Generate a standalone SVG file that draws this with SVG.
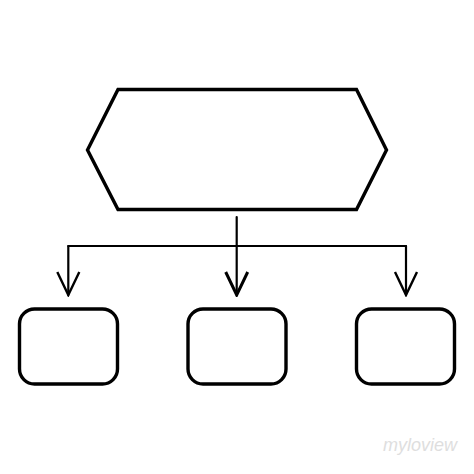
<svg xmlns="http://www.w3.org/2000/svg" width="474" height="474" viewBox="0 0 474 474">
<style>
.shape{fill:none;stroke:#000;stroke-width:3.4;stroke-linejoin:miter}
.conn{fill:none;stroke:#000;stroke-width:2.2;stroke-linecap:round}
.wm{font-family:"Liberation Sans",Arial,sans-serif;font-size:18px;fill:#dedede;font-style:italic}
</style>
<defs>
<marker id="arr" viewBox="-26 -13 28 26" refX="0" refY="0" markerWidth="28" markerHeight="26" markerUnits="userSpaceOnUse" orient="auto">
<path d="M-23,-11 L0,0 L-23,11" fill="none" stroke="#000" stroke-width="2.4"/>
</marker>
<marker id="arrB" viewBox="-26 -13 28 26" refX="0" refY="0" markerWidth="28" markerHeight="26" markerUnits="userSpaceOnUse" orient="auto">
<path d="M-23,-11 L0,0 L-23,11" fill="none" stroke="#000" stroke-width="3"/>
</marker>
</defs>
<rect width="474" height="474" fill="#fff"/>
<g id="top">
<polygon class="shape" points="118,89.5 356.5,89.5 386.5,150 356.5,209.5 118,209.5 87.5,150"/>
</g>
<g id="box1"><rect class="shape" x="19.5" y="309" width="98" height="75" rx="15"/></g>
<g id="box2"><rect class="shape" x="188" y="309" width="98" height="75" rx="15"/></g>
<g id="box3"><rect class="shape" x="356.5" y="309" width="98" height="75" rx="15"/></g>
<g id="connectors">
<path class="conn" d="M236.7,217 V295" stroke-width="3" marker-end="url(#arrB)"/>
<path class="conn" d="M68.3,246 H406"/>
<path class="conn" d="M68.3,246 V295" marker-end="url(#arr)"/>
<path class="conn" d="M406,246 V295" marker-end="url(#arr)"/>
</g>
<text class="wm" x="383" y="451">myloview</text>
</svg>
